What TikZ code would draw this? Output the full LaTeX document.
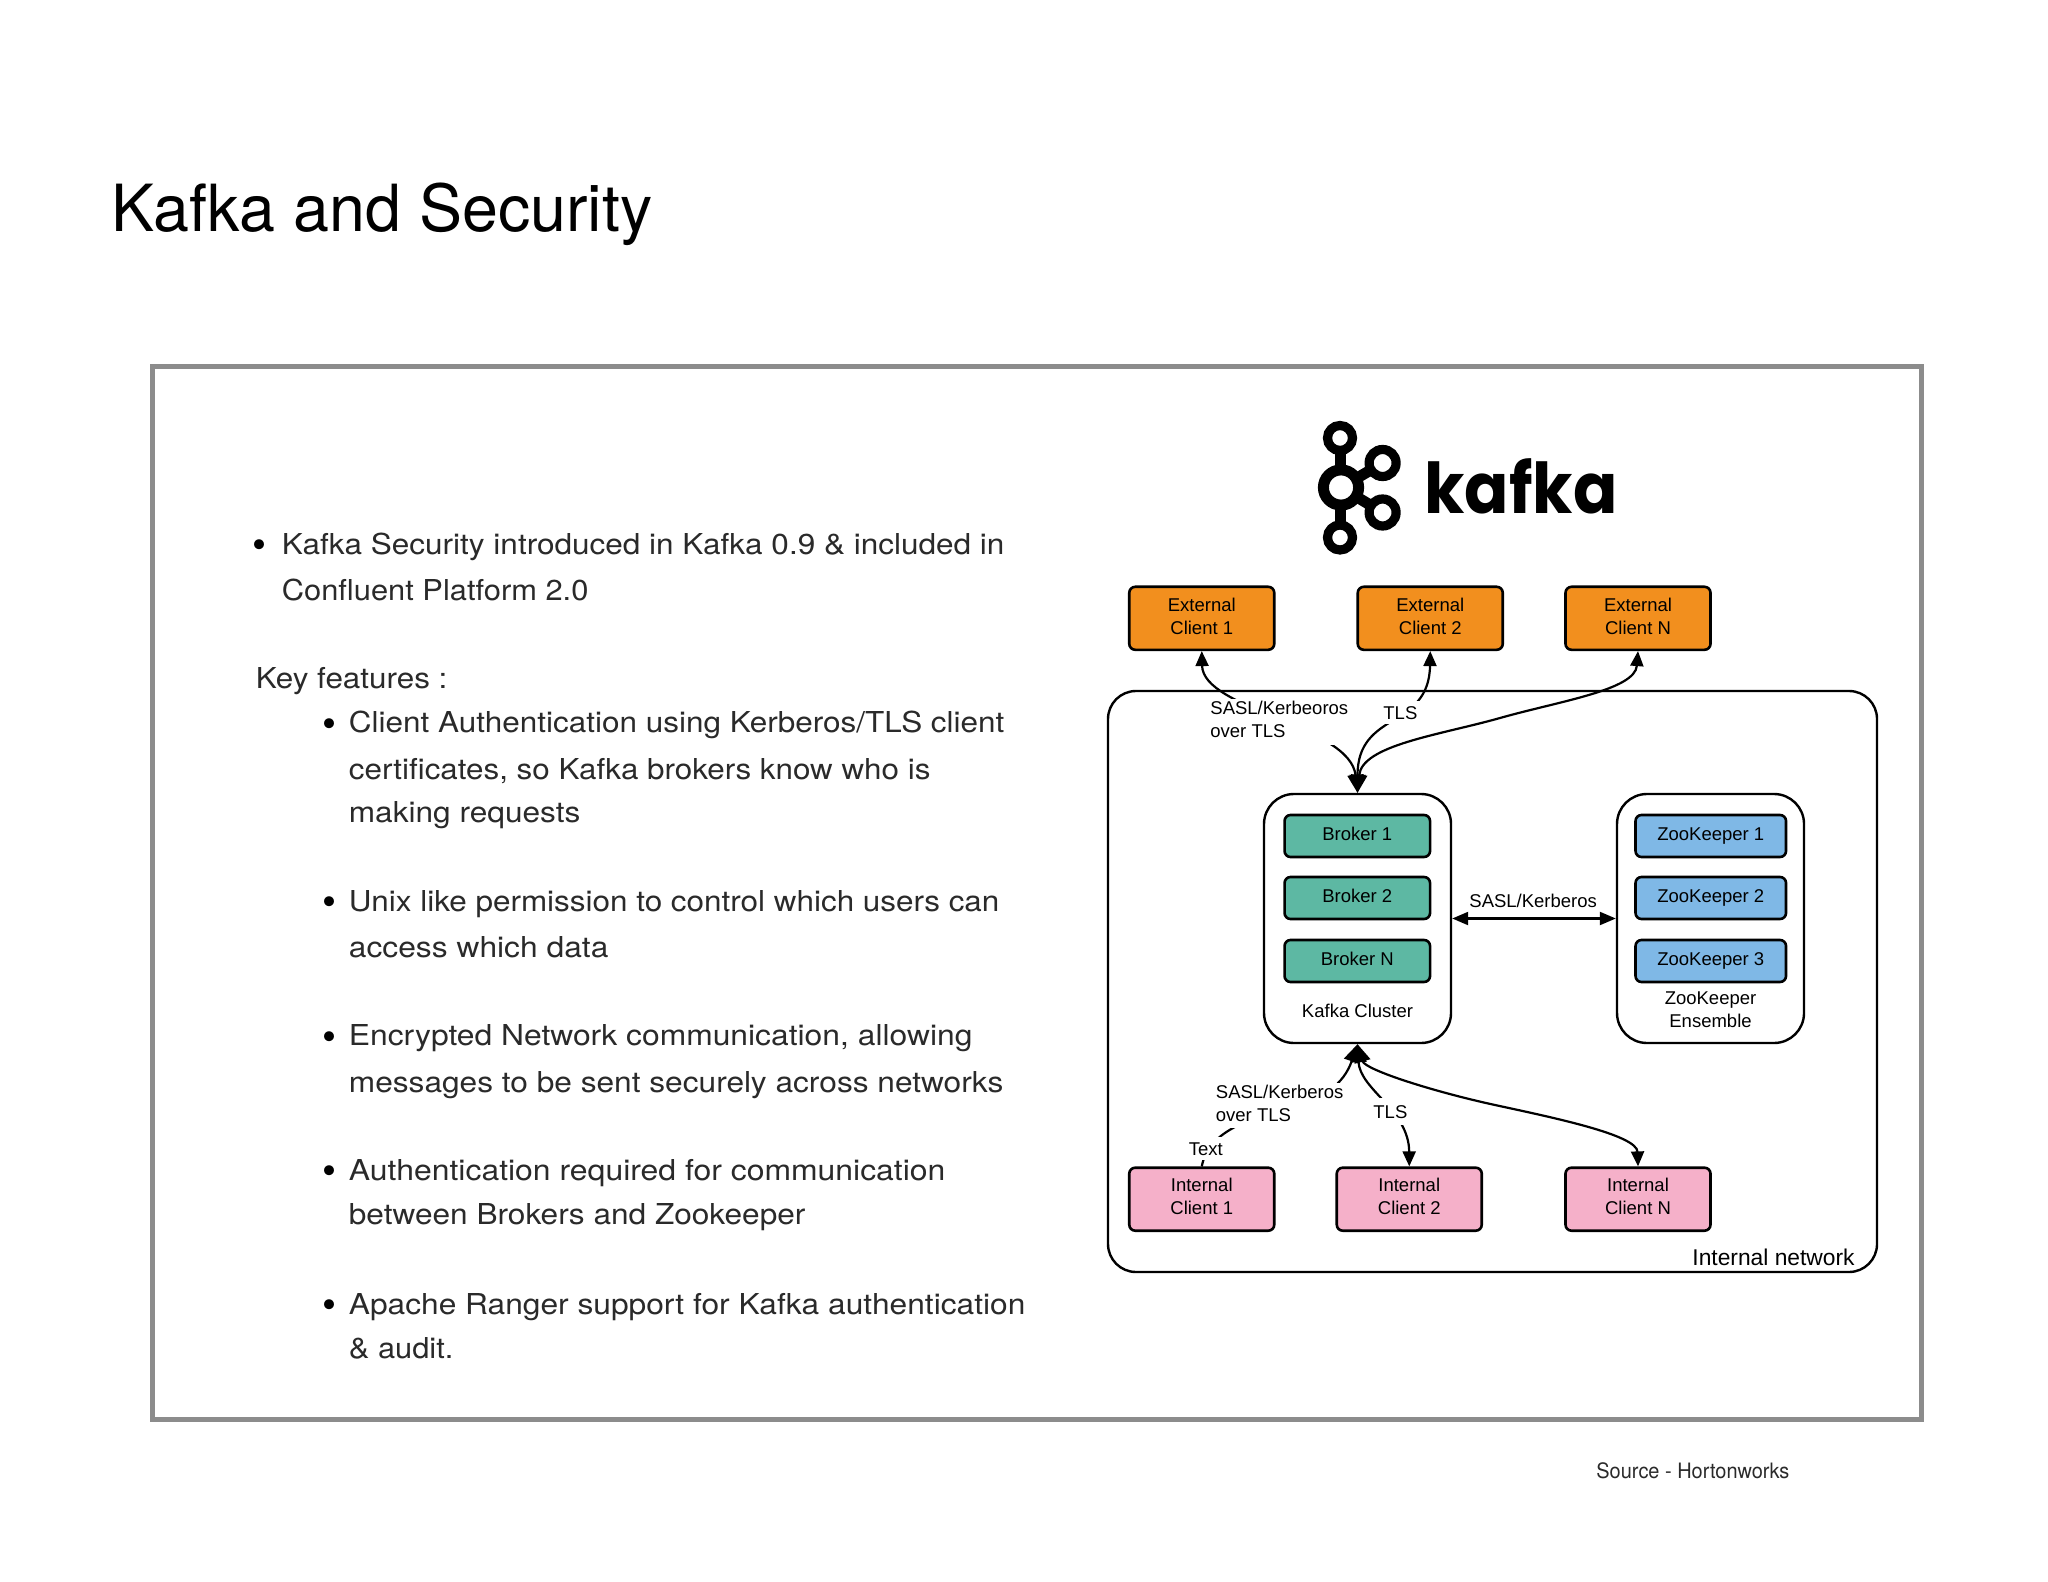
\documentclass[tikz,border=0pt]{standalone}
\usepackage{graphicx}
\usepackage{fontspec}
\setmainfont{TeX Gyre Heros}
\newfontfamily\diagf{Liberation Sans}
\newfontfamily\logof{Poppins}
\usetikzlibrary{arrows.meta}
\definecolor{framegray}{HTML}{8C8C8C}
\definecolor{extorange}{HTML}{F28F1E}
\definecolor{brokerteal}{HTML}{5DB8A3}
\definecolor{zkblue}{HTML}{7FB8E6}
\definecolor{intpink}{HTML}{F5B0C9}
\definecolor{bodyink}{HTML}{2A2A2A}
\newcommand\fitw[2]{\resizebox{\dimexpr #1pt/2\relax}{\height}{#2}}
\newcommand\bodyline[5]{\node[bodytext,xshift=-0.75pt] (#1) at (#2,#3) {\resizebox{\dimexpr (#4pt+1.5pt)/2\relax}{\height}{#5}};}
\newcommand\bul[3]{\node[bodytext,anchor=base,text=black,font=\fontsize{20}{20}\selectfont,yshift=-2.2pt] (#1) at (#2,#3) {\textbullet};}
\newcommand\upd{\rule[-2.5pt]{0pt}{2.5pt}}
\tikzset{
  bodytext/.style={anchor=base west,inner sep=0pt,text=bodyink,font=\fontsize{14.4}{17}\selectfont},
  group/.style={draw=black,line width=1.2pt,fill=white,rounded corners=15pt},
  netbox/.style={draw=black,line width=1.2pt,fill=white,rounded corners=14pt,minimum width=384.5pt,minimum height=290.5pt},
  svc/.style={draw=black,line width=1.3pt,rounded corners=3pt,align=center,inner sep=0pt,
    text=black,font=\diagf\fontsize{9.25}{11.5}\selectfont},
  client/.style={svc,minimum width=72.5pt,minimum height=31.5pt},
  broker/.style={svc,fill=brokerteal,minimum width=72.75pt,minimum height=21pt,text height=7pt,text depth=3pt},
  zook/.style={svc,fill=zkblue,minimum width=75.25pt,minimum height=21pt,text height=7pt,text depth=3pt},
  lab/.style={inner sep=0pt,align=center,text=black,font=\diagf\fontsize{9.25}{11.5}\selectfont},
  cover/.style={lab,fill=white,align=left,inner xsep=2.5pt},
  conn/.style={line width=1.1pt,draw=black,{Triangle[length=7.5pt,width=6.5pt]}-{Triangle[length=9pt,width=8pt]}},
  nocc/.style={line width=1.1pt,draw=black,{Triangle[length=9pt,width=8pt]}-{Triangle[length=7.5pt,width=6.5pt]}},
  both/.style={line width=1.1pt,draw=black,{Triangle[length=8pt,width=6.5pt]}-{Triangle[length=8pt,width=6.5pt]}},
  connto/.style={line width=1.1pt,draw=black,-{Triangle[length=9pt,width=8pt]}},
  logoring/.style={draw=black,line width=4.6pt},
  logolink/.style={draw=black,line width=5.5pt}
}
\begin{document}
\begin{tikzpicture}[x=0.5pt,y=-0.5pt]
\useasboundingbox (0,0) rectangle (2048,1582);
\fill[white] (0,0) rectangle (2048,1582);
% title and frame
\node[anchor=base west,inner sep=0pt,text=black,font=\fontsize{32.5}{36}\selectfont] (title) at (111,232) {\fitw{541}{Kafka and Security}};
\node[draw=framegray,line width=2.5pt,minimum width=884.5pt,minimum height=526pt,inner sep=0pt] (frame) at (1037,893) {};
\node[anchor=base west,inner sep=0pt,text=bodyink,font=\fontsize{10.6}{12}\selectfont] (source) at (1596,1478.7) {\fitw{193}{Source - Hortonworks}};
% body text
\bul{b0}{259}{554}
\bodyline{t0a}{283}{554}{721}{Kafka Security introduced in Kafka 0.9 \& included in}
\bodyline{t0b}{283}{600.7}{305}{Confluent Platform 2.0}
\bodyline{key}{257}{688}{190}{Key features :}
\bul{b1}{329}{732.7}
\bodyline{t1a}{350}{732.7}{654}{Client Authentication using Kerberos/TLS client}
\bodyline{t1b}{350}{779}{580}{certificates, so Kafka brokers know who is}
\bodyline{t1c}{350}{822.7}{230}{making requests}
\bul{b2}{329}{911}
\bodyline{t2a}{350}{911}{649}{Unix like permission to control which users can}
\bodyline{t2b}{350}{957}{258}{access which data}
\bul{b3}{329}{1045.7}
\bodyline{t3a}{350}{1045.7}{622}{Encrypted Network communication, allowing}
\bodyline{t3b}{350}{1092}{653}{messages to be sent securely across networks}
\bul{b4}{329}{1180}
\bodyline{t4a}{350}{1180}{595}{Authentication required for communication}
\bodyline{t4b}{350}{1224}{455}{between Brokers and Zookeeper}
\bul{b5}{329}{1314}
\bodyline{t5a}{350}{1314}{675}{Apache Ranger support for Kafka authentication}
\bodyline{t5b}{350}{1358}{103}{\& audit.}
% logo
\draw[logolink] (1340,438) -- (1340,537);
\draw[logolink] (1341,487.5) -- (1382.6,463);
\draw[logolink] (1341,487.5) -- (1382.6,512.5);
\fill[white] (1340,438) circle[radius=6.25pt];
\draw[logoring] (1340,438) circle[radius=6.25pt];
\fill[white] (1340,537.5) circle[radius=6.25pt];
\draw[logoring] (1340,537.5) circle[radius=6.25pt];
\fill[white] (1382.6,463) circle[radius=6.75pt];
\draw[logoring] (1382.6,463) circle[radius=6.75pt];
\fill[white] (1382.6,512.5) circle[radius=6.75pt];
\draw[logoring] (1382.6,512.5) circle[radius=6.75pt];
\fill[white] (1341,487.5) circle[radius=8.8pt];
\draw[draw=black,line width=5.5pt] (1341,487.5) circle[radius=8.8pt];
\node[anchor=base west,inner sep=0pt,text=black,font=\logof\bfseries\fontsize{35}{40}\selectfont] (logotext) at (1424,514) {\fitw{193}{kafka}};
% network and groups
\node[netbox] (net) at (1492.5,981.5) {};
\node[group,minimum width=93.5pt,minimum height=124.5pt] (cluster) at (1357.5,918.5) {};
\node[group,minimum width=93.5pt,minimum height=124.5pt] (ensemble) at (1710.5,918.5) {};
% clients and members
\node[client,fill=extorange] (ext1) at (1201.75,618.3) {External\\Client 1\upd};
\node[client,fill=extorange] (ext2) at (1430.25,618.3) {External\\Client 2\upd};
\node[client,fill=extorange] (extn) at (1638,618.3) {External\\Client N\upd};
\node[client,fill=intpink] (int1) at (1201.75,1199.2) {Internal\\Client 1\upd};
\node[client,fill=intpink] (int2) at (1409.25,1199.2) {Internal\\Client 2\upd};
\node[client,fill=intpink] (intn) at (1638,1199.2) {Internal\\Client N\upd};
\node[broker] (b1) at (1357.3,836) {Broker 1};
\node[broker] (b2) at (1357.3,898) {Broker 2};
\node[broker] (bn) at (1357.3,961) {Broker N};
\node[zook] (z1) at (1710.75,836) {ZooKeeper 1};
\node[zook] (z2) at (1710.75,898) {ZooKeeper 2};
\node[zook] (z3) at (1710.75,961) {ZooKeeper 3};
% connectors
\draw[conn] (ext1.south) .. controls (1203,710) and (1350,725) .. (cluster.north);
\draw[conn] (ext2.south) .. controls (1429,730) and (1357.5,710) .. (cluster.north);
\draw[conn] (extn.south) .. controls (1635,690) and (1560,701) .. (1500,718) .. controls (1440,735) and (1362,745) .. (cluster.north);
\draw[both] (cluster.east) -- (ensemble.west);
\draw[connto] (int1.north) .. controls (1205,1150) and (1215,1138) .. (1233,1128) .. controls (1265,1110) and (1335,1110) .. (cluster.south);
\draw[nocc] (cluster.south) .. controls (1360,1090) and (1409,1110) .. (int2.north);
\draw[nocc] (cluster.south) .. controls (1365,1070) and (1435,1092) .. (1495,1105) .. controls (1555,1118) and (1637,1135) .. (intn.north);
% labels (their white ground interrupts the connectors)
\node[cover,anchor=west,minimum height=23pt] (lab1) at (1205,722) {SASL/Kerbeoros\\over TLS\upd};
\node[lab,fill=white,anchor=base west,inner xsep=1.5pt,inner ysep=2.5pt] (lab2) at (1380,719) {TLS};
\node[lab,anchor=base west,fill=white] (lab3) at (1469,907) {SASL/Kerberos};
\node[cover,anchor=west,minimum height=22.5pt] (lab4) at (1210.5,1105.5) {SASL/Kerberos\\over TLS\upd};
\node[lab,fill=white,anchor=base west,inner xsep=1.5pt,inner ysep=3.5pt] (lab5) at (1370,1118) {TLS};
\node[lab,fill=white,anchor=base west,inner xsep=1pt,inner ysep=2.5pt] (lab6) at (1186.5,1155) {Text};
\node[lab,anchor=base] (lab7) at (1357.5,1017) {Kafka Cluster};
\node[lab,anchor=base] (lab8) at (1710.5,1027) {ZooKeeper\\Ensemble};
\node[lab,anchor=base west,font=\diagf\fontsize{11.4}{13}\selectfont] (lab9) at (1692,1265) {Internal network};
\end{tikzpicture}
\end{document}
